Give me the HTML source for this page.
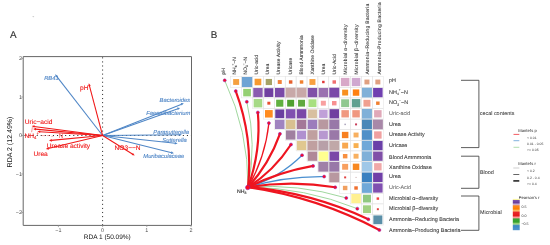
<!DOCTYPE html>
<html><head><meta charset="utf-8"><title>RDA and Mantel test figure</title>
<style>html,body{margin:0;padding:0;background:#fff;width:550px;height:245px;overflow:hidden}svg{display:block;text-rendering:geometricPrecision}</style>
</head><body>
<svg width="550" height="245" viewBox="0 0 550 245" font-family='"Liberation Sans", Arial, sans-serif'><text x="9.9" y="37.9" font-size="9.9" fill="#333" stroke="#333" stroke-width="0.15">A</text>
<path d="M23.2,56.6 H191.5 V225.4 H23.2 Z" fill="none" stroke="#666" stroke-width="1.0"/>
<line x1="102.6" y1="57.3" x2="102.6" y2="225.1" stroke="#333" stroke-width="1.0" stroke-dasharray="1.1 2.97"/>
<line x1="191.0" y1="135.5" x2="23.2" y2="135.5" stroke="#333" stroke-width="1.0" stroke-dasharray="1.1 2.96" stroke-dashoffset="1.05"/>
<line x1="21.2" y1="58.5" x2="23.2" y2="58.5" stroke="#8a8a8a" stroke-width="0.7"/>
<text x="21.9" y="60.4" font-size="5.4" fill="#4d4d4d" text-anchor="end">2</text>
<line x1="21.2" y1="97.0" x2="23.2" y2="97.0" stroke="#8a8a8a" stroke-width="0.7"/>
<text x="21.9" y="98.9" font-size="5.4" fill="#4d4d4d" text-anchor="end">1</text>
<line x1="21.2" y1="135.5" x2="23.2" y2="135.5" stroke="#8a8a8a" stroke-width="0.7"/>
<text x="21.9" y="137.4" font-size="5.4" fill="#4d4d4d" text-anchor="end">0</text>
<line x1="21.2" y1="174.0" x2="23.2" y2="174.0" stroke="#8a8a8a" stroke-width="0.7"/>
<text x="21.9" y="175.9" font-size="5.4" fill="#4d4d4d" text-anchor="end">−1</text>
<line x1="21.2" y1="212.5" x2="23.2" y2="212.5" stroke="#8a8a8a" stroke-width="0.7"/>
<text x="21.9" y="214.4" font-size="5.4" fill="#4d4d4d" text-anchor="end">−2</text>
<line x1="58.4" y1="225.1" x2="58.4" y2="227.1" stroke="#8a8a8a" stroke-width="0.7"/>
<text x="58.4" y="231.5" font-size="5.4" fill="#4d4d4d" text-anchor="middle">−1</text>
<line x1="102.6" y1="225.1" x2="102.6" y2="227.1" stroke="#8a8a8a" stroke-width="0.7"/>
<text x="102.6" y="231.5" font-size="5.4" fill="#4d4d4d" text-anchor="middle">0</text>
<line x1="146.8" y1="225.1" x2="146.8" y2="227.1" stroke="#8a8a8a" stroke-width="0.7"/>
<text x="146.8" y="231.5" font-size="5.4" fill="#4d4d4d" text-anchor="middle">1</text>
<line x1="191.0" y1="225.1" x2="191.0" y2="227.1" stroke="#8a8a8a" stroke-width="0.7"/>
<text x="191.0" y="231.5" font-size="5.4" fill="#4d4d4d" text-anchor="middle">2</text>
<text x="107.3" y="238.5" font-size="6.5" fill="#111" text-anchor="middle">RDA 1 (50.09%)</text>
<text transform="translate(11.6,142.0) rotate(-90)" x="0" y="0" font-size="7.05" fill="#111" text-anchor="middle">RDA 2 (12.49%)</text>
<line x1="102.6" y1="135.5" x2="56.51" y2="76.12" stroke="#4f86c6" stroke-width="1.05"/><polygon points="55.10,74.30 57.84,75.71 55.79,77.31" fill="#4f86c6"/>
<line x1="102.6" y1="135.5" x2="181.66" y2="104.15" stroke="#4f86c6" stroke-width="1.05"/><polygon points="183.80,103.30 181.68,105.54 180.72,103.12" fill="#4f86c6"/>
<line x1="102.6" y1="135.5" x2="177.93" y2="108.67" stroke="#4f86c6" stroke-width="1.05"/><polygon points="180.10,107.90 177.90,110.06 177.03,107.61" fill="#4f86c6"/>
<line x1="102.6" y1="135.5" x2="179.60" y2="134.72" stroke="#4f86c6" stroke-width="1.05"/><polygon points="181.90,134.70 179.11,136.03 179.09,133.43" fill="#4f86c6"/>
<line x1="102.6" y1="135.5" x2="175.31" y2="143.35" stroke="#4f86c6" stroke-width="1.05"/><polygon points="177.60,143.60 174.68,144.59 174.96,142.01" fill="#4f86c6"/>
<line x1="102.6" y1="135.5" x2="171.67" y2="152.74" stroke="#4f86c6" stroke-width="1.05"/><polygon points="173.90,153.30 170.87,153.88 171.50,151.36" fill="#4f86c6"/>
<line x1="102.6" y1="135.5" x2="89.39" y2="85.52" stroke="#f01818" stroke-width="1.05"/><polygon points="88.80,83.30 90.77,85.67 88.26,86.34" fill="#f01818"/>
<line x1="102.6" y1="135.5" x2="33.98" y2="126.40" stroke="#f01818" stroke-width="1.05"/><polygon points="31.70,126.10 34.65,125.18 34.30,127.76" fill="#f01818"/>
<line x1="102.6" y1="135.5" x2="35.49" y2="129.12" stroke="#f01818" stroke-width="1.05"/><polygon points="33.20,128.90 36.11,127.87 35.86,130.46" fill="#f01818"/>
<line x1="102.6" y1="135.5" x2="39.70" y2="131.74" stroke="#f01818" stroke-width="1.05"/><polygon points="37.40,131.60 40.27,130.47 40.12,133.06" fill="#f01818"/>
<line x1="102.6" y1="135.5" x2="51.29" y2="140.38" stroke="#f01818" stroke-width="1.05"/><polygon points="49.00,140.60 51.66,139.04 51.91,141.63" fill="#f01818"/>
<line x1="102.6" y1="135.5" x2="48.14" y2="148.56" stroke="#f01818" stroke-width="1.05"/><polygon points="45.90,149.10 48.32,147.18 48.93,149.71" fill="#f01818"/>
<line x1="102.6" y1="135.5" x2="132.75" y2="154.28" stroke="#f01818" stroke-width="1.05"/><polygon points="134.70,155.50 131.64,155.12 133.01,152.92" fill="#f01818"/>
<text x="44.2" y="80.0" font-size="5.8" font-style="italic" fill="#4f86c6" stroke="#4f86c6" stroke-width="0.12">RB41</text>
<text x="159.6" y="101.6" font-size="5.8" font-style="italic" fill="#4f86c6" stroke="#4f86c6" stroke-width="0.12">Bacteroides</text>
<text x="146.2" y="115.2" font-size="5.8" font-style="italic" fill="#4f86c6" stroke="#4f86c6" stroke-width="0.12">Faecalibacterium</text>
<text x="153.3" y="133.9" font-size="5.8" font-style="italic" fill="#4f86c6" stroke="#4f86c6" stroke-width="0.12">Parasutterella</text>
<text x="162.3" y="141.9" font-size="5.8" font-style="italic" fill="#4f86c6" stroke="#4f86c6" stroke-width="0.12">Sutterella</text>
<text x="143.3" y="158.0" font-size="5.8" font-style="italic" fill="#4f86c6" stroke="#4f86c6" stroke-width="0.12">Muribaculaceae</text>
<text x="80.0" y="90.4" font-size="6.6" fill="#f01818" stroke="#f01818" stroke-width="0.12">pH</text>
<text x="24.8" y="124.2" font-size="6.6" fill="#f01818" stroke="#f01818" stroke-width="0.12">Uric−acid</text>
<text x="24.5" y="138.0" font-size="6.6" fill="#f01818" stroke="#f01818" stroke-width="0.12">NH<tspan font-size="4.2" dy="1">4</tspan><tspan font-size="4.2" dy="-3.6">+</tspan></text>
<g fill="#f01818" fill-opacity="0.75" font-size="6.6"><text x="41.2" y="138.0">−</text><text x="46.4" y="138.0">−</text><text x="51.0" y="138.0" font-size="4.6">−</text><text x="58.6" y="138.0">N</text></g>
<line x1="32.4" y1="127.2" x2="31.6" y2="132.2" stroke="#f01818" stroke-width="0.6" stroke-opacity="0.8"/>
<text x="46.8" y="147.7" font-size="6.6" fill="#f01818" stroke="#f01818" stroke-width="0.12">Urease activity</text>
<text x="33.5" y="155.8" font-size="6.6" fill="#f01818" stroke="#f01818" stroke-width="0.12">Urea</text>
<text x="114.6" y="150.3" font-size="6.6" fill="#f01818" stroke="#f01818" stroke-width="0.12">NO3−−N</text>
<ellipse cx="33.3" cy="16.6" rx="0.9" ry="0.7" fill="#999" fill-opacity="0.5"/>
<text x="210.7" y="37.7" font-size="9.9" fill="#333" stroke="#333" stroke-width="0.15">B</text>
<g fill="none" stroke="#e2e2e2" stroke-width="0.5"><rect x="230.70" y="76.70" width="10.9" height="10.6"/><rect x="241.60" y="76.70" width="10.9" height="10.6"/><rect x="252.50" y="76.70" width="10.9" height="10.6"/><rect x="263.40" y="76.70" width="10.9" height="10.6"/><rect x="274.30" y="76.70" width="10.9" height="10.6"/><rect x="285.20" y="76.70" width="10.9" height="10.6"/><rect x="296.10" y="76.70" width="10.9" height="10.6"/><rect x="307.00" y="76.70" width="10.9" height="10.6"/><rect x="317.90" y="76.70" width="10.9" height="10.6"/><rect x="328.80" y="76.70" width="10.9" height="10.6"/><rect x="339.70" y="76.70" width="10.9" height="10.6"/><rect x="350.60" y="76.70" width="10.9" height="10.6"/><rect x="361.50" y="76.70" width="10.9" height="10.6"/><rect x="372.40" y="76.70" width="10.9" height="10.6"/><rect x="241.60" y="87.30" width="10.9" height="10.6"/><rect x="252.50" y="87.30" width="10.9" height="10.6"/><rect x="263.40" y="87.30" width="10.9" height="10.6"/><rect x="274.30" y="87.30" width="10.9" height="10.6"/><rect x="285.20" y="87.30" width="10.9" height="10.6"/><rect x="296.10" y="87.30" width="10.9" height="10.6"/><rect x="307.00" y="87.30" width="10.9" height="10.6"/><rect x="317.90" y="87.30" width="10.9" height="10.6"/><rect x="328.80" y="87.30" width="10.9" height="10.6"/><rect x="339.70" y="87.30" width="10.9" height="10.6"/><rect x="350.60" y="87.30" width="10.9" height="10.6"/><rect x="361.50" y="87.30" width="10.9" height="10.6"/><rect x="372.40" y="87.30" width="10.9" height="10.6"/><rect x="252.50" y="97.90" width="10.9" height="10.6"/><rect x="263.40" y="97.90" width="10.9" height="10.6"/><rect x="274.30" y="97.90" width="10.9" height="10.6"/><rect x="285.20" y="97.90" width="10.9" height="10.6"/><rect x="296.10" y="97.90" width="10.9" height="10.6"/><rect x="307.00" y="97.90" width="10.9" height="10.6"/><rect x="317.90" y="97.90" width="10.9" height="10.6"/><rect x="328.80" y="97.90" width="10.9" height="10.6"/><rect x="339.70" y="97.90" width="10.9" height="10.6"/><rect x="350.60" y="97.90" width="10.9" height="10.6"/><rect x="361.50" y="97.90" width="10.9" height="10.6"/><rect x="372.40" y="97.90" width="10.9" height="10.6"/><rect x="263.40" y="108.50" width="10.9" height="10.6"/><rect x="274.30" y="108.50" width="10.9" height="10.6"/><rect x="285.20" y="108.50" width="10.9" height="10.6"/><rect x="296.10" y="108.50" width="10.9" height="10.6"/><rect x="307.00" y="108.50" width="10.9" height="10.6"/><rect x="317.90" y="108.50" width="10.9" height="10.6"/><rect x="328.80" y="108.50" width="10.9" height="10.6"/><rect x="339.70" y="108.50" width="10.9" height="10.6"/><rect x="350.60" y="108.50" width="10.9" height="10.6"/><rect x="361.50" y="108.50" width="10.9" height="10.6"/><rect x="372.40" y="108.50" width="10.9" height="10.6"/><rect x="274.30" y="119.10" width="10.9" height="10.6"/><rect x="285.20" y="119.10" width="10.9" height="10.6"/><rect x="296.10" y="119.10" width="10.9" height="10.6"/><rect x="307.00" y="119.10" width="10.9" height="10.6"/><rect x="317.90" y="119.10" width="10.9" height="10.6"/><rect x="328.80" y="119.10" width="10.9" height="10.6"/><rect x="339.70" y="119.10" width="10.9" height="10.6"/><rect x="350.60" y="119.10" width="10.9" height="10.6"/><rect x="361.50" y="119.10" width="10.9" height="10.6"/><rect x="372.40" y="119.10" width="10.9" height="10.6"/><rect x="285.20" y="129.70" width="10.9" height="10.6"/><rect x="296.10" y="129.70" width="10.9" height="10.6"/><rect x="307.00" y="129.70" width="10.9" height="10.6"/><rect x="317.90" y="129.70" width="10.9" height="10.6"/><rect x="328.80" y="129.70" width="10.9" height="10.6"/><rect x="339.70" y="129.70" width="10.9" height="10.6"/><rect x="350.60" y="129.70" width="10.9" height="10.6"/><rect x="361.50" y="129.70" width="10.9" height="10.6"/><rect x="372.40" y="129.70" width="10.9" height="10.6"/><rect x="296.10" y="140.30" width="10.9" height="10.6"/><rect x="307.00" y="140.30" width="10.9" height="10.6"/><rect x="317.90" y="140.30" width="10.9" height="10.6"/><rect x="328.80" y="140.30" width="10.9" height="10.6"/><rect x="339.70" y="140.30" width="10.9" height="10.6"/><rect x="350.60" y="140.30" width="10.9" height="10.6"/><rect x="361.50" y="140.30" width="10.9" height="10.6"/><rect x="372.40" y="140.30" width="10.9" height="10.6"/><rect x="307.00" y="150.90" width="10.9" height="10.6"/><rect x="317.90" y="150.90" width="10.9" height="10.6"/><rect x="328.80" y="150.90" width="10.9" height="10.6"/><rect x="339.70" y="150.90" width="10.9" height="10.6"/><rect x="350.60" y="150.90" width="10.9" height="10.6"/><rect x="361.50" y="150.90" width="10.9" height="10.6"/><rect x="372.40" y="150.90" width="10.9" height="10.6"/><rect x="317.90" y="161.50" width="10.9" height="10.6"/><rect x="328.80" y="161.50" width="10.9" height="10.6"/><rect x="339.70" y="161.50" width="10.9" height="10.6"/><rect x="350.60" y="161.50" width="10.9" height="10.6"/><rect x="361.50" y="161.50" width="10.9" height="10.6"/><rect x="372.40" y="161.50" width="10.9" height="10.6"/><rect x="328.80" y="172.10" width="10.9" height="10.6"/><rect x="339.70" y="172.10" width="10.9" height="10.6"/><rect x="350.60" y="172.10" width="10.9" height="10.6"/><rect x="361.50" y="172.10" width="10.9" height="10.6"/><rect x="372.40" y="172.10" width="10.9" height="10.6"/><rect x="339.70" y="182.70" width="10.9" height="10.6"/><rect x="350.60" y="182.70" width="10.9" height="10.6"/><rect x="361.50" y="182.70" width="10.9" height="10.6"/><rect x="372.40" y="182.70" width="10.9" height="10.6"/><rect x="350.60" y="193.30" width="10.9" height="10.6"/><rect x="361.50" y="193.30" width="10.9" height="10.6"/><rect x="372.40" y="193.30" width="10.9" height="10.6"/><rect x="361.50" y="203.90" width="10.9" height="10.6"/><rect x="372.40" y="203.90" width="10.9" height="10.6"/><rect x="372.40" y="214.50" width="10.9" height="10.6"/></g>
<rect x="233.15" y="79.08" width="6.00" height="5.83" fill="#f5a040"/>
<rect x="241.90" y="76.99" width="10.30" height="10.02" fill="#6ea3d4"/>
<rect x="254.60" y="78.74" width="6.70" height="6.52" fill="#f79a30"/>
<rect x="265.70" y="78.94" width="6.30" height="6.13" fill="#a6a266"/>
<rect x="277.75" y="80.06" width="4.00" height="3.89" fill="#f28038"/>
<rect x="288.90" y="80.30" width="3.50" height="3.40" fill="#e6602e"/>
<rect x="299.80" y="80.30" width="3.50" height="3.40" fill="#f08030"/>
<rect x="309.45" y="79.08" width="6.00" height="5.83" fill="#f8a040"/>
<rect x="322.10" y="80.78" width="2.50" height="2.43" fill="#e03838"/>
<rect x="332.50" y="80.30" width="3.50" height="3.40" fill="#f07070"/>
<rect x="340.90" y="77.87" width="8.50" height="8.27" fill="#d8a8c8"/>
<rect x="351.80" y="77.87" width="8.50" height="8.27" fill="#d0a8d0"/>
<rect x="364.45" y="79.57" width="5.00" height="4.86" fill="#e0a080"/>
<rect x="375.35" y="79.57" width="5.00" height="4.86" fill="#e0a080"/>
<rect x="243.20" y="88.86" width="7.70" height="7.49" fill="#94d072"/>
<rect x="253.25" y="88.03" width="9.40" height="9.14" fill="#8a5cb0"/>
<rect x="264.35" y="88.22" width="9.00" height="8.75" fill="#7040a0"/>
<rect x="275.00" y="87.98" width="9.50" height="9.24" fill="#7a4aa8"/>
<rect x="285.65" y="87.74" width="10.00" height="9.72" fill="#c8a8a8"/>
<rect x="296.55" y="87.74" width="10.00" height="9.72" fill="#c8a8a8"/>
<rect x="307.70" y="87.98" width="9.50" height="9.24" fill="#8050a8"/>
<rect x="318.60" y="87.98" width="9.50" height="9.24" fill="#9a70b0"/>
<rect x="329.25" y="87.74" width="10.00" height="9.72" fill="#7a48a8"/>
<rect x="342.15" y="89.68" width="6.00" height="5.83" fill="#f89020"/>
<rect x="352.80" y="89.44" width="6.50" height="6.32" fill="#ff8010"/>
<rect x="361.95" y="87.74" width="10.00" height="9.72" fill="#80b0d8"/>
<rect x="373.10" y="87.98" width="9.50" height="9.24" fill="#7040b0"/>
<rect x="253.65" y="99.02" width="8.60" height="8.36" fill="#a6da86"/>
<rect x="267.35" y="101.74" width="3.00" height="2.92" fill="#e85030"/>
<rect x="276.15" y="99.70" width="7.20" height="7.00" fill="#60b040"/>
<rect x="287.15" y="99.80" width="7.00" height="6.81" fill="#50a030"/>
<rect x="298.05" y="99.80" width="7.00" height="6.81" fill="#60a840"/>
<rect x="308.45" y="99.31" width="8.00" height="7.78" fill="#a8e080"/>
<rect x="320.85" y="100.77" width="5.00" height="4.86" fill="#f8a0a0"/>
<rect x="332.00" y="101.01" width="4.50" height="4.38" fill="#f89090"/>
<rect x="341.15" y="99.31" width="8.00" height="7.78" fill="#90c890"/>
<rect x="351.80" y="99.07" width="8.50" height="8.27" fill="#60a090"/>
<rect x="363.45" y="99.80" width="7.00" height="6.81" fill="#f0a090"/>
<rect x="376.10" y="101.50" width="3.50" height="3.40" fill="#f08030"/>
<rect x="265.00" y="110.06" width="7.70" height="7.49" fill="#ff8c20"/>
<rect x="275.25" y="109.42" width="9.00" height="8.75" fill="#6a40a0"/>
<rect x="285.90" y="109.18" width="9.50" height="9.24" fill="#8050b0"/>
<rect x="296.80" y="109.18" width="9.50" height="9.24" fill="#7a48a8"/>
<rect x="307.95" y="109.42" width="9.00" height="8.75" fill="#d8c0a0"/>
<rect x="319.10" y="109.67" width="8.50" height="8.27" fill="#c0a0d8"/>
<rect x="329.50" y="109.18" width="9.50" height="9.24" fill="#7040a0"/>
<rect x="341.40" y="110.15" width="7.50" height="7.29" fill="#f09880"/>
<rect x="352.30" y="110.15" width="7.50" height="7.29" fill="#f09880"/>
<rect x="361.95" y="108.94" width="10.00" height="9.72" fill="#80b0d8"/>
<rect x="374.10" y="110.15" width="7.50" height="7.29" fill="#e0a8b8"/>
<rect x="275.00" y="119.78" width="9.50" height="9.24" fill="#a084c0"/>
<rect x="285.90" y="119.78" width="9.50" height="9.24" fill="#d8c090"/>
<rect x="296.80" y="119.78" width="9.50" height="9.24" fill="#a47898"/>
<rect x="307.70" y="119.78" width="9.50" height="9.24" fill="#9c7cbc"/>
<rect x="318.35" y="119.54" width="10.00" height="9.72" fill="#b898a0"/>
<rect x="329.25" y="119.54" width="10.00" height="9.72" fill="#9878a8"/>
<rect x="344.40" y="123.67" width="1.50" height="1.46" fill="#a8a0b8"/>
<rect x="355.05" y="123.43" width="2.00" height="1.94" fill="#c83c58"/>
<rect x="361.95" y="119.54" width="10.00" height="9.72" fill="#4a88b8"/>
<rect x="372.85" y="119.54" width="10.00" height="9.72" fill="#a888a8"/>
<rect x="285.90" y="130.38" width="9.50" height="9.24" fill="#a080a0"/>
<rect x="297.05" y="130.62" width="9.00" height="8.75" fill="#b090d0"/>
<rect x="307.45" y="130.14" width="10.00" height="9.72" fill="#c0a0a0"/>
<rect x="318.85" y="130.62" width="9.00" height="8.75" fill="#b898d0"/>
<rect x="329.25" y="130.14" width="10.00" height="9.72" fill="#9a78a8"/>
<rect x="341.90" y="131.84" width="6.50" height="6.32" fill="#f88020"/>
<rect x="353.55" y="132.57" width="5.00" height="4.86" fill="#f8b060"/>
<rect x="361.95" y="130.14" width="10.00" height="9.72" fill="#5090c8"/>
<rect x="374.10" y="131.35" width="7.50" height="7.29" fill="#f0a0a0"/>
<rect x="296.80" y="140.98" width="9.50" height="9.24" fill="#e0c890"/>
<rect x="307.45" y="140.74" width="10.00" height="9.72" fill="#c0a0a0"/>
<rect x="318.35" y="140.74" width="10.00" height="9.72" fill="#b8a0a8"/>
<rect x="329.25" y="140.74" width="10.00" height="9.72" fill="#c0a8a8"/>
<rect x="342.15" y="142.68" width="6.00" height="5.83" fill="#f8a850"/>
<rect x="353.55" y="143.17" width="5.00" height="4.86" fill="#f8b050"/>
<rect x="361.95" y="140.74" width="10.00" height="9.72" fill="#70a8d8"/>
<rect x="373.10" y="140.98" width="9.50" height="9.24" fill="#6a40a8"/>
<rect x="307.70" y="151.58" width="9.50" height="9.24" fill="#b08898"/>
<rect x="318.60" y="151.58" width="9.50" height="9.24" fill="#ffff90"/>
<rect x="329.50" y="151.58" width="9.50" height="9.24" fill="#7a48a8"/>
<rect x="342.90" y="154.01" width="4.50" height="4.38" fill="#f89040"/>
<rect x="353.55" y="153.77" width="5.00" height="4.86" fill="#f8b060"/>
<rect x="361.95" y="151.34" width="10.00" height="9.72" fill="#80b0d8"/>
<rect x="373.10" y="151.58" width="9.50" height="9.24" fill="#8050a8"/>
<rect x="318.35" y="161.94" width="10.00" height="9.72" fill="#a080a8"/>
<rect x="329.25" y="161.94" width="10.00" height="9.72" fill="#9878a8"/>
<rect x="342.15" y="163.88" width="6.00" height="5.83" fill="#f8a060"/>
<rect x="352.80" y="163.64" width="6.50" height="6.32" fill="#f88820"/>
<rect x="361.95" y="161.94" width="10.00" height="9.72" fill="#a0c8e8"/>
<rect x="374.10" y="163.15" width="7.50" height="7.29" fill="#f0a8a8"/>
<rect x="329.25" y="172.54" width="10.00" height="9.72" fill="#b898a0"/>
<rect x="344.15" y="176.43" width="2.00" height="1.94" fill="#e04040"/>
<rect x="355.55" y="176.91" width="1.00" height="0.97" fill="#c0a0a0"/>
<rect x="361.95" y="172.54" width="10.00" height="9.72" fill="#3a80c0"/>
<rect x="373.10" y="172.78" width="9.50" height="9.24" fill="#7040a8"/>
<rect x="342.90" y="185.81" width="4.50" height="4.38" fill="#f0a060"/>
<rect x="354.30" y="186.30" width="3.50" height="3.40" fill="#f07030"/>
<rect x="361.95" y="183.14" width="10.00" height="9.72" fill="#70a8d8"/>
<rect x="373.10" y="183.38" width="9.50" height="9.24" fill="#8050b0"/>
<rect x="351.30" y="193.98" width="9.50" height="9.24" fill="#fff090"/>
<rect x="362.95" y="194.71" width="8.00" height="7.78" fill="#90c880"/>
<rect x="376.60" y="197.38" width="2.50" height="2.43" fill="#f04040"/>
<rect x="362.95" y="205.31" width="8.00" height="7.78" fill="#a0d080"/>
<rect x="376.85" y="208.23" width="2.00" height="1.94" fill="#e04040"/>
<rect x="373.35" y="215.42" width="9.00" height="8.75" fill="#5a8fa8"/>
<text transform="translate(224.85,74.6) rotate(-90)" font-size="5.0" fill="#333" stroke="#333" stroke-width="0.07">pH</text>
<text transform="translate(235.97,74.6) rotate(-90)" font-size="5.0" fill="#333" stroke="#333" stroke-width="0.07">NH<tspan font-size="3.2" dy="1.3">4</tspan><tspan font-size="3.2" dy="-3.6">+</tspan><tspan dy="2.3">−N</tspan></text>
<text transform="translate(247.09,74.6) rotate(-90)" font-size="5.0" fill="#333" stroke="#333" stroke-width="0.07">NO<tspan font-size="3.2" dy="1.3">3</tspan><tspan font-size="3.2" dy="-3.6">−</tspan><tspan dy="2.3">−N</tspan></text>
<text transform="translate(258.21,74.6) rotate(-90)" font-size="5.0" fill="#333" stroke="#333" stroke-width="0.07">Uric-acid</text>
<text transform="translate(269.33,74.6) rotate(-90)" font-size="5.0" fill="#333" stroke="#333" stroke-width="0.07">Urea</text>
<text transform="translate(280.45,74.6) rotate(-90)" font-size="5.0" fill="#333" stroke="#333" stroke-width="0.07">Urease Activity</text>
<text transform="translate(291.57,74.6) rotate(-90)" font-size="5.0" fill="#333" stroke="#333" stroke-width="0.07">Uricase</text>
<text transform="translate(302.69,74.6) rotate(-90)" font-size="5.0" fill="#333" stroke="#333" stroke-width="0.07">Blood Ammmonia</text>
<text transform="translate(313.81,74.6) rotate(-90)" font-size="5.0" fill="#333" stroke="#333" stroke-width="0.07">Xanthine Oxidase</text>
<text transform="translate(324.93,74.6) rotate(-90)" font-size="5.0" fill="#333" stroke="#333" stroke-width="0.07">Urea</text>
<text transform="translate(336.05,74.6) rotate(-90)" font-size="5.0" fill="#333" stroke="#333" stroke-width="0.07">Uric-Acid</text>
<text transform="translate(347.17,74.6) rotate(-90)" font-size="5.0" fill="#333" stroke="#333" stroke-width="0.07" textLength="50.0" lengthAdjust="spacing">Microbial α−diversity</text>
<text transform="translate(358.29,74.6) rotate(-90)" font-size="5.0" fill="#333" stroke="#333" stroke-width="0.07" textLength="50.0" lengthAdjust="spacing">Microbial β−diversity</text>
<text transform="translate(369.41,74.6) rotate(-90)" font-size="5.0" fill="#333" stroke="#333" stroke-width="0.07" textLength="70.9" lengthAdjust="spacing">Ammonia−Reducing Bacteria</text>
<text transform="translate(380.53,74.6) rotate(-90)" font-size="5.0" fill="#333" stroke="#333" stroke-width="0.07" textLength="72.2" lengthAdjust="spacing">Ammonia−Producing Bacteria</text>
<text x="389.1" y="82.30" font-size="5.4" fill="#333" stroke="#333" stroke-width="0.07">pH</text>
<text x="389.1" y="93.63" font-size="5.4" fill="#333" stroke="#333" stroke-width="0.07">NH<tspan font-size="3.4" dy="1.4">4</tspan><tspan font-size="3.4" dy="-3.9">+</tspan><tspan dy="2.5">−N</tspan></text>
<text x="389.1" y="104.26" font-size="5.4" fill="#333" stroke="#333" stroke-width="0.07">NO<tspan font-size="3.4" dy="1.4">3</tspan><tspan font-size="3.4" dy="-3.9">−</tspan><tspan dy="2.5">−N</tspan></text>
<text x="389.1" y="114.89" font-size="5.4" fill="#6a6a6a" stroke="#6a6a6a" stroke-width="0.07">Uric-acid</text>
<text x="389.1" y="125.52" font-size="5.4" fill="#333" stroke="#333" stroke-width="0.07">Urea</text>
<text x="389.1" y="136.15" font-size="5.4" fill="#333" stroke="#333" stroke-width="0.07">Urease Activity</text>
<text x="389.1" y="147.48" font-size="5.4" fill="#333" stroke="#333" stroke-width="0.07">Uricase</text>
<text x="389.1" y="158.61" font-size="5.4" fill="#333" stroke="#333" stroke-width="0.07">Blood Ammmonia</text>
<text x="389.1" y="168.84" font-size="5.4" fill="#333" stroke="#333" stroke-width="0.07">Xanthine Oxidase</text>
<text x="389.1" y="178.17" font-size="5.4" fill="#333" stroke="#333" stroke-width="0.07">Urea</text>
<text x="389.1" y="188.80" font-size="5.4" fill="#6a6a6a" stroke="#6a6a6a" stroke-width="0.07">Uric-Acid</text>
<text x="389.1" y="199.53" font-size="5.4" fill="#333" stroke="#333" stroke-width="0.07">Microbial α−diversity</text>
<text x="389.1" y="210.16" font-size="5.4" fill="#333" stroke="#333" stroke-width="0.07">Microbial β−diversity</text>
<text x="389.1" y="221.19" font-size="5.4" fill="#333" stroke="#333" stroke-width="0.07">Ammonia−Reducing Bacteria</text>
<text x="389.1" y="231.82" font-size="5.4" fill="#333" stroke="#333" stroke-width="0.07">Ammonia−Producing Bacteria</text>
<path d="M248.0,187.2 Q248.42,131.15 224.70,80.36" fill="none" stroke="#8fd08c" stroke-width="0.85"/>
<path d="M248.0,187.2 Q256.89,144.34 246.80,101.74" fill="none" stroke="#8fd08c" stroke-width="0.85"/>
<path d="M248.0,187.2 Q298.14,183.34 346.25,197.95" fill="none" stroke="#8fd08c" stroke-width="0.85"/>
<path d="M248.0,187.2 Q304.71,187.43 357.30,208.64" fill="none" stroke="#8fd08c" stroke-width="0.85"/>
<path d="M248.0,187.2 Q279.03,177.95 302.05,155.19" fill="none" stroke="#4a8fd0" stroke-width="1.25"/>
<path d="M248.0,187.2 Q285.26,176.02 324.15,176.57" fill="none" stroke="#4a8fd0" stroke-width="1.25"/>
<path d="M248.0,187.2 Q265.24,157.38 268.90,123.12" fill="none" stroke="#ee1520" stroke-width="1.25"/>
<path d="M248.0,187.2 Q253.22,137.68 235.75,91.05" fill="none" stroke="#ee1520" stroke-width="2.2"/>
<path d="M248.0,187.2 Q261.22,150.91 257.85,112.43" fill="none" stroke="#ee1520" stroke-width="2.2"/>
<path d="M248.0,187.2 Q269.31,163.70 279.95,133.81" fill="none" stroke="#ee1520" stroke-width="2.2"/>
<path d="M248.0,187.2 Q274.20,170.58 291.00,144.50" fill="none" stroke="#ee1520" stroke-width="2.2"/>
<path d="M248.0,187.2 Q279.01,171.85 313.10,165.88" fill="none" stroke="#ee1520" stroke-width="2.2"/>
<path d="M248.0,187.2 Q291.60,180.17 335.20,187.26" fill="none" stroke="#ee1520" stroke-width="2.2"/>
<path d="M248.0,187.2 Q311.10,192.31 368.35,219.33" fill="none" stroke="#ee1520" stroke-width="2.2"/>
<path d="M248.0,187.2 Q317.38,197.31 379.40,230.02" fill="none" stroke="#ee1520" stroke-width="2.2"/>
<circle cx="224.70" cy="80.36" r="1.5" fill="#ff0a1e" stroke="#8020c0" stroke-width="0.5"/>
<circle cx="235.75" cy="91.05" r="1.5" fill="#ff0a1e" stroke="#8020c0" stroke-width="0.5"/>
<circle cx="246.80" cy="101.74" r="1.5" fill="#ff0a1e" stroke="#8020c0" stroke-width="0.5"/>
<circle cx="257.85" cy="112.43" r="1.5" fill="#ff0a1e" stroke="#8020c0" stroke-width="0.5"/>
<circle cx="268.90" cy="123.12" r="1.5" fill="#ff0a1e" stroke="#8020c0" stroke-width="0.5"/>
<circle cx="279.95" cy="133.81" r="1.5" fill="#ff0a1e" stroke="#8020c0" stroke-width="0.5"/>
<circle cx="291.00" cy="144.50" r="1.5" fill="#ff0a1e" stroke="#8020c0" stroke-width="0.5"/>
<circle cx="302.05" cy="155.19" r="1.5" fill="#ff0a1e" stroke="#8020c0" stroke-width="0.5"/>
<circle cx="313.10" cy="165.88" r="1.5" fill="#ff0a1e" stroke="#8020c0" stroke-width="0.5"/>
<circle cx="324.15" cy="176.57" r="1.5" fill="#ff0a1e" stroke="#8020c0" stroke-width="0.5"/>
<circle cx="335.20" cy="187.26" r="1.5" fill="#ff0a1e" stroke="#8020c0" stroke-width="0.5"/>
<circle cx="346.25" cy="197.95" r="1.5" fill="#ff0a1e" stroke="#8020c0" stroke-width="0.5"/>
<circle cx="357.30" cy="208.64" r="1.5" fill="#ff0a1e" stroke="#8020c0" stroke-width="0.5"/>
<circle cx="368.35" cy="219.33" r="1.5" fill="#ff0a1e" stroke="#8020c0" stroke-width="0.5"/>
<circle cx="379.40" cy="230.02" r="1.5" fill="#ff0a1e" stroke="#8020c0" stroke-width="0.5"/>
<circle cx="247.7" cy="187.5" r="2.25" fill="#ff0a1e" stroke="#7a2ac0" stroke-width="0.5"/>
<text x="237.0" y="192.6" font-size="5.2" fill="#222" stroke="#222" stroke-width="0.12">NH<tspan font-size="3.5" dy="1.8">3</tspan></text>
<polyline points="461,80.3 478.9,80.3 478.9,147.6 461,147.6" fill="none" stroke="#333" stroke-width="0.8"/>
<text x="479.7" y="114.8" font-size="5.45" fill="#222">cecal contents</text>
<polyline points="461,156.2 478.9,156.2 478.9,188.3 461,188.3" fill="none" stroke="#333" stroke-width="0.8"/>
<text x="479.9" y="173.8" font-size="5.45" fill="#222">Blood</text>
<polyline points="461,196.0 478.9,196.0 478.9,230.3 461,230.3" fill="none" stroke="#333" stroke-width="0.8"/>
<text x="479.9" y="213.6" font-size="5.45" fill="#222">Microbial</text>
<text x="518.3" y="131.8" font-size="4.1" fill="#222">Mantel's p</text>
<line x1="513.5" y1="134.4" x2="519.3" y2="134.4" stroke="#ee1520" stroke-width="0.7"/>
<text x="527.1" y="138.5" font-size="3.4" fill="#333">&lt; 0.01</text>
<line x1="513.5" y1="140.7" x2="519.3" y2="140.7" stroke="#4a8fd0" stroke-width="0.7"/>
<text x="527.1" y="144.8" font-size="3.4" fill="#333">0.01 - 0.05</text>
<line x1="513.5" y1="147.3" x2="519.3" y2="147.3" stroke="#8fd08c" stroke-width="0.7"/>
<text x="527.1" y="151.4" font-size="3.4" fill="#333">&gt;= 0.05</text>
<text x="518.3" y="165.4" font-size="4.1" fill="#222">Mantel's r</text>
<line x1="513.3" y1="168.0" x2="519.3" y2="168.0" stroke="#b0b0b0" stroke-width="0.6"/>
<text x="527.1" y="172.1" font-size="3.4" fill="#333">&lt; 0.2</text>
<line x1="513.3" y1="174.5" x2="519.3" y2="174.5" stroke="#555" stroke-width="0.9"/>
<text x="527.1" y="178.6" font-size="3.4" fill="#333">0.2 - 0.4</text>
<line x1="513.3" y1="180.9" x2="519.3" y2="180.9" stroke="#333" stroke-width="1.7"/>
<text x="527.1" y="185.0" font-size="3.4" fill="#333">&gt;= 0.4</text>
<text x="518.8" y="198.9" font-size="4.1" fill="#222">Pearson's r</text>
<defs><linearGradient id="pg" x1="0" y1="0" x2="0" y2="1"><stop offset="0" stop-color="#ffff99"/><stop offset="0.025" stop-color="#f4eea6"/><stop offset="0.05" stop-color="#7a50ac"/><stop offset="0.12" stop-color="#6a3d9a"/><stop offset="0.175" stop-color="#c8aed6"/><stop offset="0.225" stop-color="#ff8a1a"/><stop offset="0.32" stop-color="#ff7f00"/><stop offset="0.38" stop-color="#fdbf6f"/><stop offset="0.43" stop-color="#e8262a"/><stop offset="0.53" stop-color="#e31a1c"/><stop offset="0.595" stop-color="#fb9a99"/><stop offset="0.645" stop-color="#3aa335"/><stop offset="0.74" stop-color="#33a02c"/><stop offset="0.8" stop-color="#b2df8a"/><stop offset="0.855" stop-color="#3a88c4"/><stop offset="1" stop-color="#4f95cc"/></linearGradient></defs>
<rect x="512.8" y="198.9" width="6.9" height="31.3" fill="url(#pg)"/>
<text x="521.5" y="207.5" font-size="3.6" fill="#333">0.5</text>
<text x="521.5" y="216.5" font-size="3.6" fill="#333">0.0</text>
<text x="521.5" y="225.2" font-size="3.6" fill="#333">−0.5</text></svg>
</body></html>
